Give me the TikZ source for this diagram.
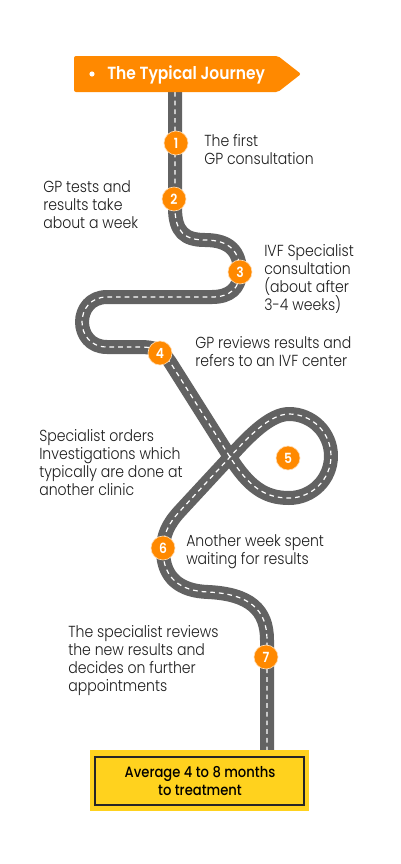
\documentclass[tikz,border=0pt]{standalone}
\usepackage{fontspec}
\setmainfont{Poppins}[FakeStretch=0.88, UprightFont=* Light, BoldFont=* Medium]
\newfontfamily\titlefont{Poppins}[FakeStretch=0.88, UprightFont=* SemiBold]
\definecolor{jorange}{RGB}{255,137,0}
\definecolor{jroad}{RGB}{98,98,98}
\definecolor{jyellow}{RGB}{255,210,30}
\definecolor{jtext}{RGB}{30,30,30}
\tikzset{
  road/.style={draw=jroad,line width=10.5pt,line join=round},
  roadline/.style={draw=white,line width=0.9pt,dash pattern=on 3.5pt off 3pt},
  stepdot/.style={circle,fill=jorange,draw=white!70!jorange,line width=0.5pt,minimum size=18pt,inner sep=0pt,text=white,font=\titlefont\fontsize{10.5}{11}\selectfont},
  lbl/.style={anchor=north west,inner sep=0pt,align=left,text=jtext,font=\fontsize{12}{13.5}\selectfont}
}
\def\roadpath{(175,92) -- (175,208)
  .. controls (175,232) and (185,240) .. (205,240)
  .. controls (230,240) and (240,252) .. (240,272)
  .. controls (240,288) and (230,297) .. (212,297)
  -- (107,297)
  .. controls (73.7,297) and (73.7,347) .. (107,347)
  -- (140,347)
  .. controls (155,347) and (162,350) .. (170,362)
  -- (230,457)
  .. controls (249,487) and (265,498) .. (289,498)
  .. controls (312.2,498) and (331,479.2) .. (331,456)
  .. controls (331,432.8) and (312.2,414) .. (289,414)
  .. controls (270,414) and (248,437) .. (230,457)
  -- (180,511)
  .. controls (168,524) and (163,535) .. (163,550)
  .. controls (163,578) and (180,591) .. (208,592)
  .. controls (250,594) and (267,610) .. (267,640)
  -- (267,752)}
\begin{document}
\begin{tikzpicture}[x=0.75pt,y=-0.75pt]
\useasboundingbox (0,0) rectangle (400,864);
\fill[white] (0,0) rectangle (400,864);
% road
\draw[road] \roadpath;
\draw[roadline] \roadpath;
% top sign
\fill[jorange,rounded corners=1.5pt] (74,56) -- (278,56) -- (301,74) -- (278,92) -- (74,92) -- cycle;
\fill[white] (92,74) circle (2.6);
\node[anchor=base west,inner sep=0pt,text=white,font=\titlefont\fontsize{13.2}{14}\selectfont] (title) at (107,79) {The Typical Journey};
% bottom sign
\fill[jyellow] (90,750) rectangle (309,811);
\draw[draw=black!85,line width=1.1pt] (95,757) rectangle (304,805);
\node[align=center,inner sep=0pt,text=black,font=\fontsize{11.2}{13}\selectfont\bfseries] (goal) at (200,781) {Average 4 to 8 months\\to treatment};
% steps
\node[stepdot] (s1) at (176,143) {1};
\node[stepdot] (s2) at (174,199) {2};
\node[stepdot] (s3) at (240,272) {3};
\node[stepdot] (s4) at (160,353) {4};
\node[stepdot] (s5) at (288,458) {5};
\node[stepdot] (s6) at (163,548) {6};
\node[stepdot] (s7) at (266,657) {7};
% labels
\node[lbl] (l1) at (204,134) {The first\\GP consultation};
\node[lbl] (l2) at (43,180) {GP tests and\\results take\\about a week};
\node[lbl] (l3) at (264,244) {IVF Specialist\\consultation\\(about after\\3-4 weeks)};
\node[lbl] (l4) at (195,336) {GP reviews results and\\refers to an IVF center};
\node[lbl] (l5) at (39,429) {Specialist orders\\Investigations which\\typically are done at\\another clinic};
\node[lbl] (l6) at (186,534) {Another week spent\\waiting for results};
\node[lbl] (l7) at (68,625) {The specialist reviews\\the new results and\\decides on further\\appointments};
\end{tikzpicture}
\end{document}
